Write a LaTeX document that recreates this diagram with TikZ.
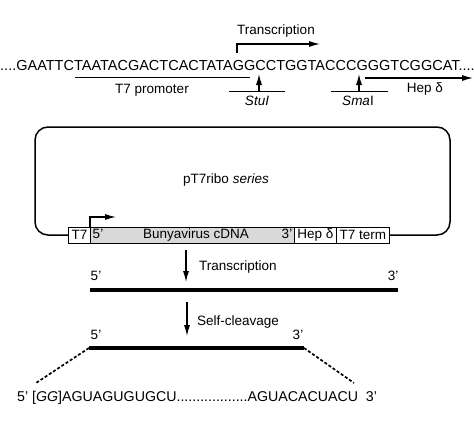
\documentclass[tikz,border=0pt]{standalone}
\usepackage{fontspec}
\setmainfont{Liberation Sans}
\usetikzlibrary{arrows.meta}
\tikzset{
  lbl/.style={inner sep=0pt, font=\fontsize{13.5}{16}\selectfont, text height=9.7pt, text depth=2.6pt},
  seg/.style={draw, line width=0.9pt, minimum height=16pt, inner sep=0pt, anchor=west, font=\fontsize{13.5}{16}\selectfont},
  thin/.style={line width=1pt},
  outline/.style={line width=1.5pt, rounded corners=13pt},
  arr/.style={line width=1.1pt, -{Latex[length=11pt,width=6pt]}},
  thick/.style={line width=4pt},
  dsh/.style={line width=1.7pt, dash pattern=on 3pt off 2pt}
}
\begin{document}
\begin{tikzpicture}[x=1pt,y=-1pt]
\useasboundingbox (0,0) rectangle (474,426);
% ---- top sequence ----
\node[lbl, anchor=base west, font=\fontsize{14.5}{17}\selectfont] (seq) at (0,70) {....GAATTCTAATACGACTCACTATAGGCCTGGTACCCGGGTCGGCAT....};
\node[lbl] (trl) at (276,31) {Transcription};
\coordinate (tstart) at (237,53);
\coordinate (tend) at (320,44);
\draw[arr] (tstart) -- (tstart |- tend) -- (tend);
% T7 promoter
\coordinate (pa) at (75,77); \coordinate (pb) at (250,77);
\draw[thin] (pa) -- (pb);
\node[lbl] (prom) at (152,90) {T7 promoter};
% StuI
\coordinate (sa) at (229,91); \coordinate (sb) at (285,91);
\coordinate (sbase) at (259,91); \coordinate (stip) at (259,74);
\draw[thin] (sa) -- (sb);
\draw[arr] (sbase) -- (stip);
\node[lbl] (stu) at (257,102) {\textit{StuI}};
% SmaI
\coordinate (ma) at (331,91); \coordinate (mb) at (388,91);
\coordinate (mbase) at (359,91); \coordinate (mtip) at (359,74);
\draw[thin] (ma) -- (mb);
\draw[arr] (mbase) -- (mtip);
\node[lbl] (sma) at (358,102) {\textit{Sma}I};
% Hep delta
\coordinate (ha) at (365,78); \coordinate (hb) at (473,78);
\draw[arr] (ha) -- (hb);
\node[lbl] (hep) at (425,89) {Hep δ};
% ---- plasmid ----
\node[lbl] (ptr) at (226,180) {pT7ribo \textit{series}};
\node[seg, minimum width=22pt] (t7) at (68,235) {T7};
\node[seg, minimum width=204pt, fill=black!15] (cdna) at (90,235) {};
\node[seg, minimum width=42pt] (hepbox) at (294,235) {Hep δ};
\node[seg, minimum width=53pt] (term) at (336,235) {T7 term};
\node[lbl] (c5) at (98,235) {5'};
\node[lbl] (cname) at (196,235) {Bunyavirus cDNA};
\node[lbl] (c3) at (287,235) {3'};
\draw[outline] (t7.west) -- (35,235) -- (35,127) -- (450,127) -- (450,235) -- (term.east);
\coordinate (cend) at (116,217);
\draw[arr] (cdna.north west) -- (cdna.north west |- cend) -- (cend);
% ---- transcription ----
\coordinate (a1s) at (186,250); \coordinate (a1e) at (186,282);
\draw[arr] (a1s) -- (a1e);
\node[lbl, anchor=west] (trl2) at (199,267) {Transcription};
\coordinate (r1a) at (90,290); \coordinate (r1b) at (398,290);
\draw[thick] (r1a) -- (r1b);
\node[lbl] (r15) at (96,277) {5'};
\node[lbl] (r13) at (393,277) {3'};
% ---- self-cleavage ----
\coordinate (a2s) at (187,302); \coordinate (a2e) at (187,336);
\draw[arr] (a2s) -- (a2e);
\node[lbl, anchor=west] (scl) at (197,322) {Self-cleavage};
\coordinate (r2a) at (89,348); \coordinate (r2b) at (304,348);
\draw[thick] (r2a) -- (r2b);
\node[lbl] (r25) at (96,336) {5'};
\node[lbl] (r23) at (298,336) {3'};
\node[lbl, anchor=west, font=\fontsize{14.2}{17}\selectfont] (fin) at (17,398) {5' [\textit{GG}]AGUAGUGUGCU..................AGUACACUACU\ \ 3'};
\coordinate (da) at (36,383); \coordinate (db) at (354,383);
\draw[dsh] (r2a) -- (da);
\draw[dsh] (r2b) -- (db);
\end{tikzpicture}
\end{document}
